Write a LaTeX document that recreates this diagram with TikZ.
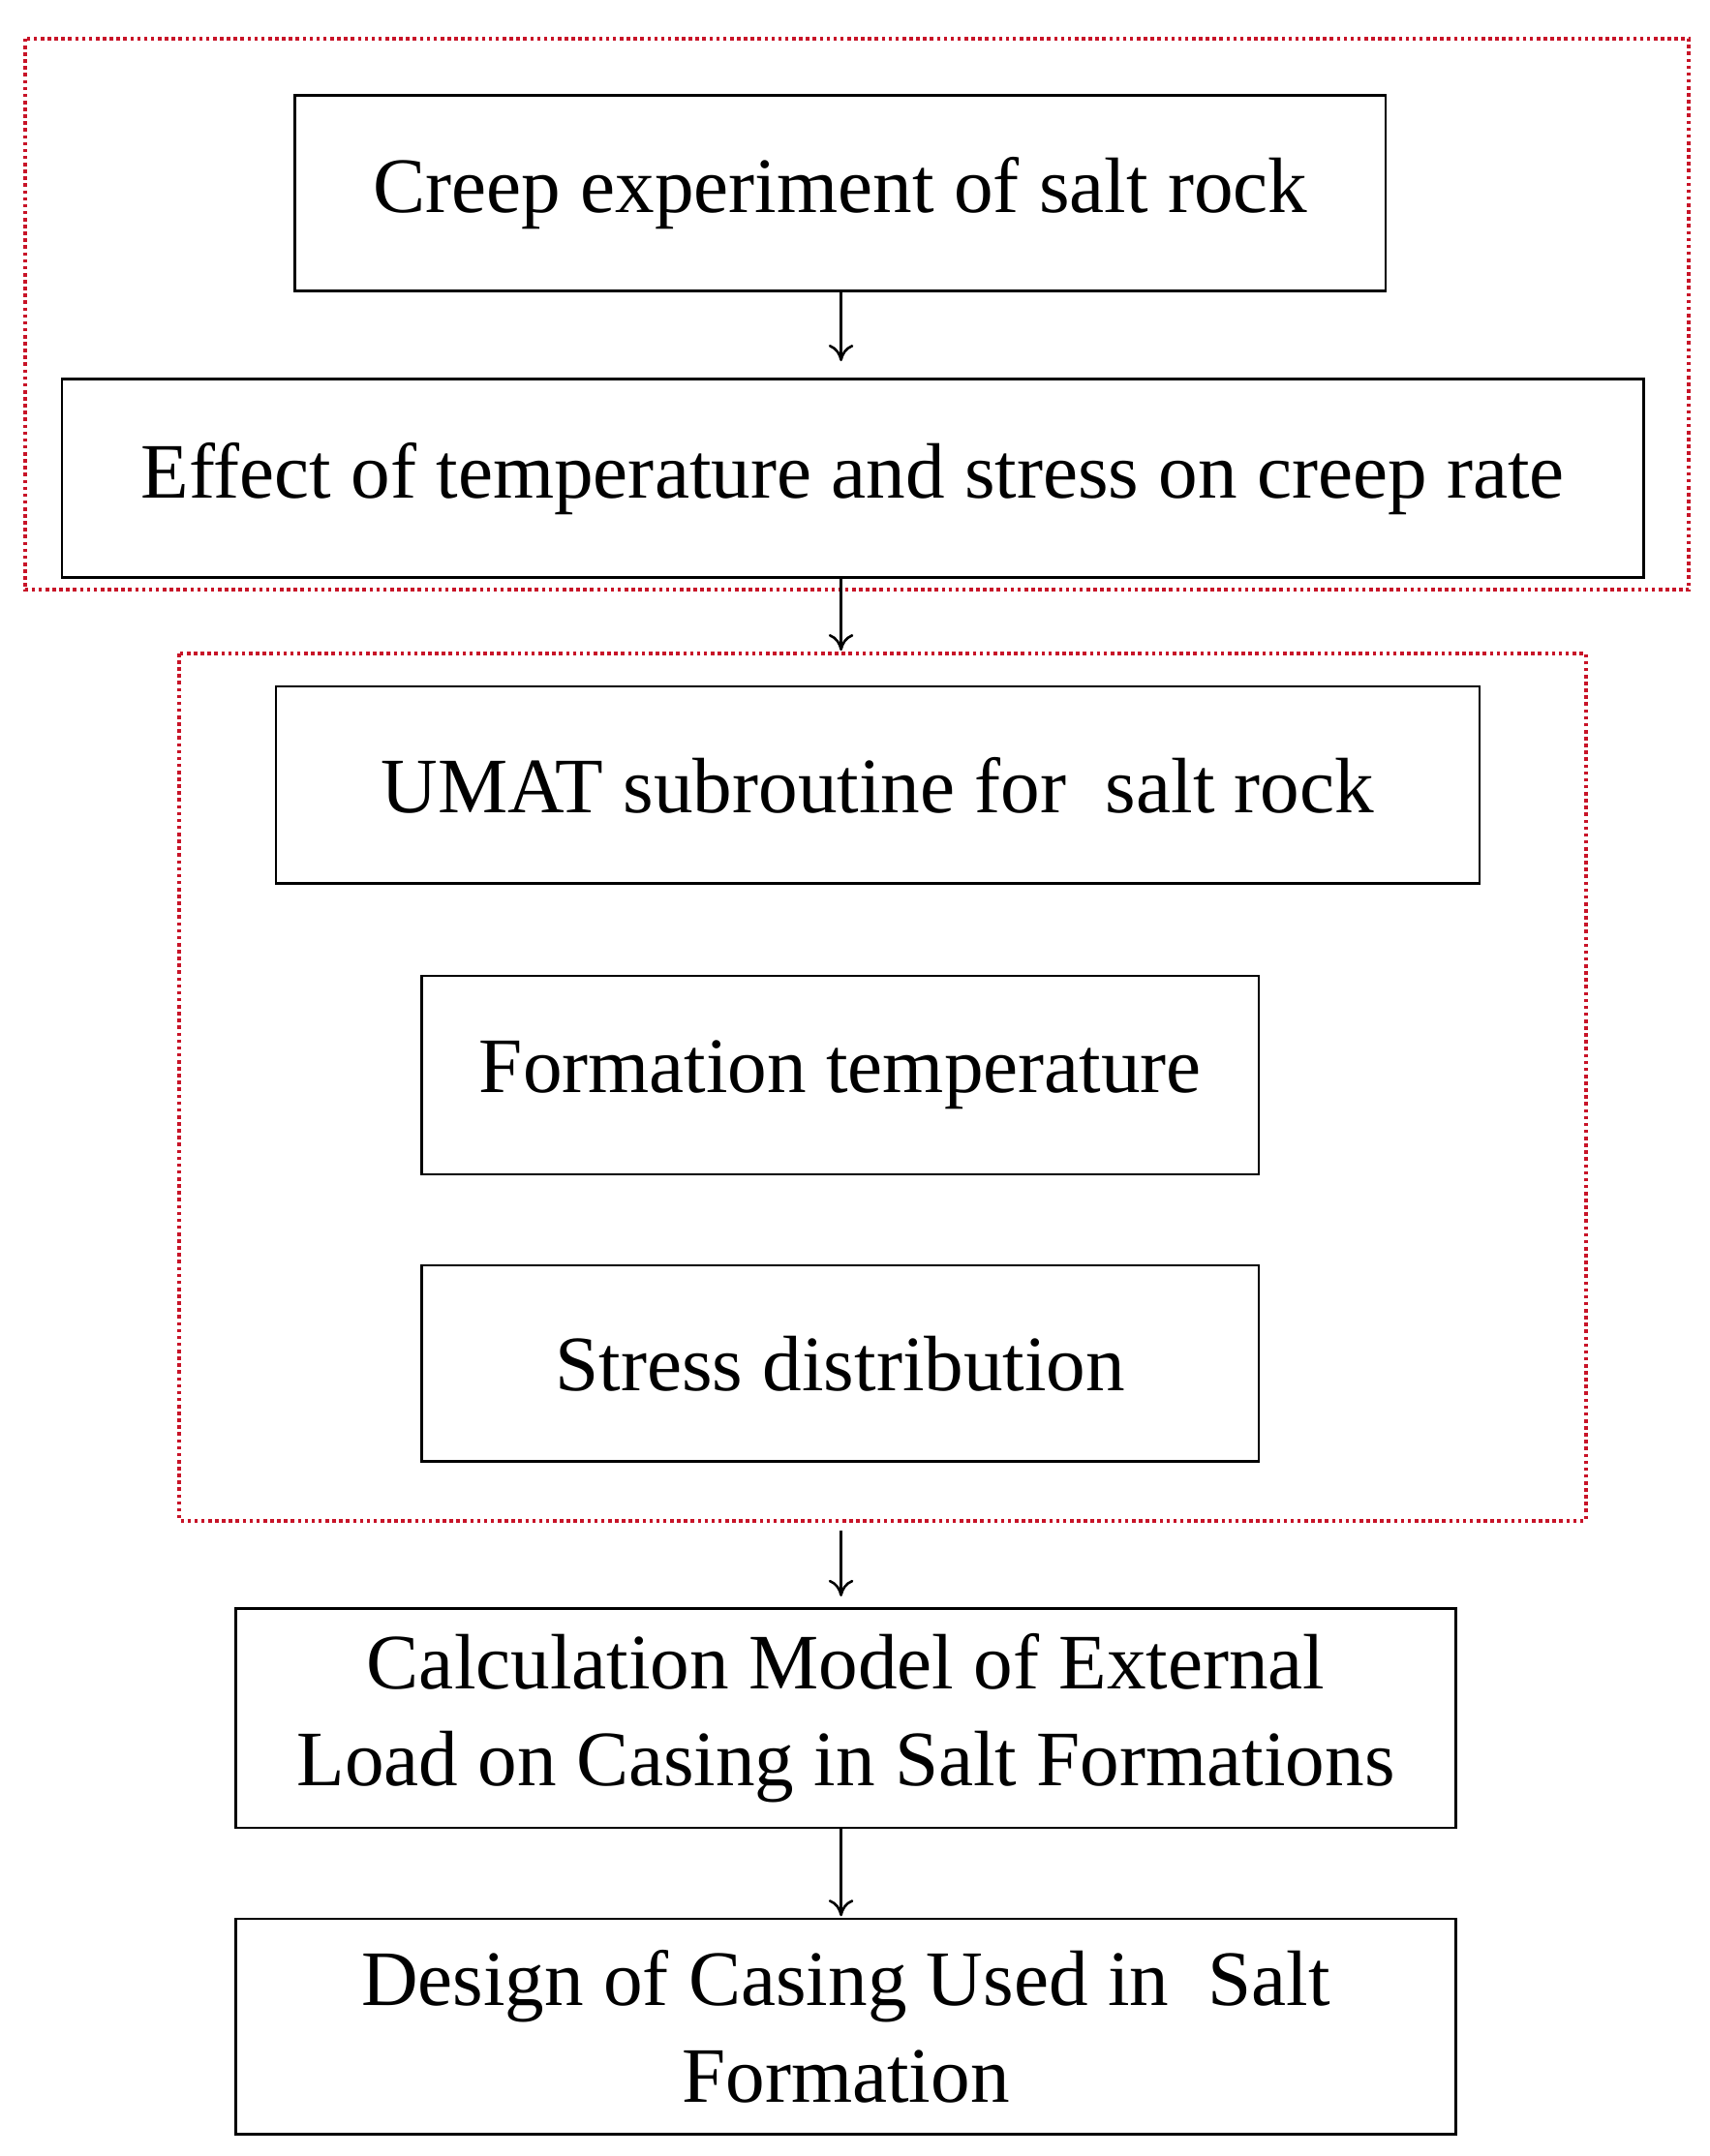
\documentclass[tikz,border=0pt]{standalone}
\usepackage{fontspec}
\setmainfont{Liberation Serif}
\usetikzlibrary{arrows.meta}
\begin{document}
\begin{tikzpicture}[x=1pt,y=-1pt,
  bx/.style={draw,line width=1.8pt,inner sep=0pt,align=center,font=\fontsize{57}{70}\selectfont},
  red/.style={draw={rgb,255:red,200;green,20;blue,40},line width=2.8pt,dash pattern=on 2.5pt off 2.5pt},
  ar/.style={-{To[length=12pt,width=18pt]},line width=1.8pt}]
\useasboundingbox (0,0) rectangle (1240,1564);
\draw[red] (18,28) rectangle (1225,428);
\draw[red] (130,474) rectangle (1150,1103);
\node[bx,minimum width=791pt,minimum height=142pt] (b1) at (609.5,140) {Creep experiment of salt rock};
\node[bx,minimum width=1147pt,minimum height=144pt] (b2) at (618.5,347) {Effect of temperature and stress on creep rate};
\node[bx,minimum width=873pt,minimum height=143pt] (b3) at (636.5,569.5) {UMAT subroutine for\ \ salt rock};
\node[bx,minimum width=607pt,minimum height=144pt] (b4) at (609.5,780) {Formation temperature};
\node[bx,minimum width=607pt,minimum height=142pt] (b5) at (609.5,989) {Stress distribution};
\node[bx,minimum width=885pt,minimum height=159pt] (b6) at (613.5,1246.5) {Calculation Model of External\\Load on Casing in Salt Formations};
\node[bx,minimum width=885pt,minimum height=156pt] (b7) at (613.5,1470) {Design of Casing Used in\ \ Salt\\Formation};
\coordinate (a1) at (610,1110);
\draw[ar] (610,211) -- (610,262);
\draw[ar] (610,419) -- (610,472);
\draw[ar] (a1) -- (610,1158);
\draw[ar] (610,1326) -- (610,1390);
\end{tikzpicture}
\end{document}
